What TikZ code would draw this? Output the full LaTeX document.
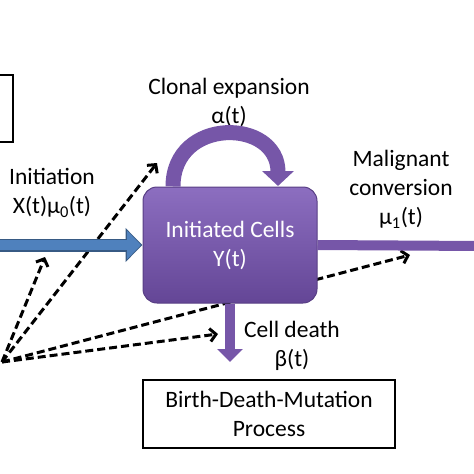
\documentclass[tikz,border=0pt]{standalone}
\usepackage{fontspec}
\setmainfont{Carlito}
\usetikzlibrary{positioning,arrows.meta,calc,backgrounds}
\definecolor{cellpurple}{RGB}{118,86,168}
\definecolor{celltop}{RGB}{140,110,192}
\definecolor{cellbottom}{RGB}{100,70,150}
\definecolor{cellrim}{RGB}{88,62,132}
\definecolor{inflowblue}{RGB}{79,129,189}
\tikzset{
  cellbox/.style={
    rectangle,
    rounded corners=14pt,
    draw=cellrim,
    line width=1pt,
    top color=celltop,
    bottom color=cellbottom,
    text=white,
    align=center,
    font=\fontsize{23.5}{29}\selectfont,
    minimum width=174pt,
    minimum height=116pt
  },
  procbox/.style={
    draw,
    rectangle,
    line width=2pt,
    fill=white,
    align=center,
    font=\fontsize{23.5}{29}\selectfont,
    minimum width=252pt,
    minimum height=68pt
  },
  ratelabel/.style={
    align=center,
    font=\fontsize{23.5}{29}\selectfont,
    inner sep=0pt
  },
  fatarrow/.style={
    line width=13pt,
    -{Triangle[width=33pt,length=17pt]}
  },
  dasharrow/.style={
    line width=3pt,
    dash pattern=on 8pt off 4pt,
    -{Straight Barb[length=6pt,width=13pt]}
  }
}

\begin{document}
\begin{tikzpicture}[x=1pt,y=-1pt]
    \clip (0,0) rectangle (474,474);

    \node[cellbox] (cells) at (230,245) {Initiated Cells\\Y(t)};
    \node[procbox] (bdm) at (269,414) {Birth-Death-Mutation\\Process};
    \node[draw, line width=2.5pt, minimum width=86pt, minimum height=67pt] (frag) at (-30,108.5) {};

    \node[ratelabel] (clonal) at (229,102) {Clonal expansion\\α(t)};
    \node[ratelabel] (init) at (52,193) {Initiation\\X(t)μ\textsubscript{0}(t)};
    \node[ratelabel] (malig) at (401,189) {Malignant\\conversion\\μ\textsubscript{1}(t)};
    \node[ratelabel] (death) at (292,346) {Cell death\\β(t)};

    \coordinate (src) at (2,362);
    \coordinate (aimA) at (157,163);
    \coordinate (aimB) at (45,257);
    \coordinate (aimC) at (218,334);
    \coordinate (aimD) at (410,255);
    \coordinate (inflow) at (-10,245);
    \coordinate (outflow) at (480,246);
    \coordinate (deathtip) at (230,362);
    \coordinate (loopend) at (278,186);

    \begin{scope}[on background layer]
      \draw[dasharrow] (src) -- (aimA);
      \draw[dasharrow] (src) -- (aimB);
      \draw[dasharrow] (src) -- (aimC);
      \draw[dasharrow] (src) -- (aimD);
    \end{scope}

    % blue inflow, dark rim under a lighter body
    \draw[fatarrow, inflowblue!70!black] (inflow) -- (cells.west);
    \draw[inflowblue, line width=10pt, -{Triangle[width=28pt,length=14pt]}, shorten >=1.5pt]
      (inflow) -- (cells.west);
    \draw[line width=10pt, cellpurple] (cells.east) -- (outflow);
    \draw[cellpurple, line width=10pt, -{Triangle[width=25pt,length=13pt]}]
      (cells.south -| deathtip) -- (deathtip);

    \draw[cellpurple, line width=15pt, -{Triangle[width=31pt,length=15pt]}]
      ($(cells.north)+(-57,0)$) .. controls +(0,-70) and (278,118) .. (loopend);

\end{tikzpicture}
\end{document}
